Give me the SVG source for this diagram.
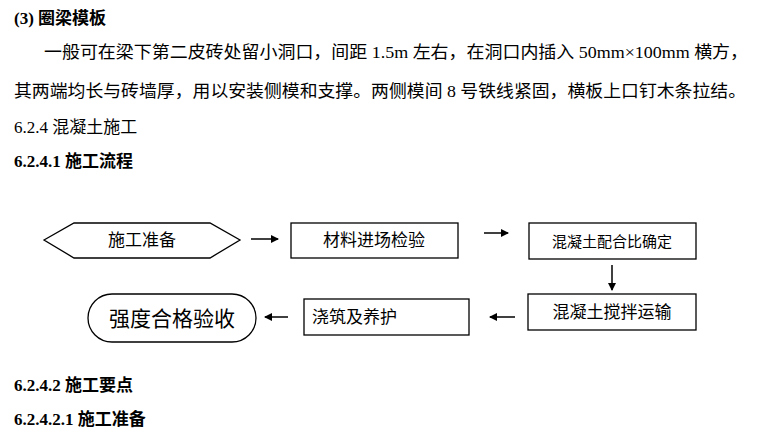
<svg xmlns="http://www.w3.org/2000/svg" width="760" height="446" viewBox="0 0 760 446">
<style>
text{font-family:"Liberation Serif","Noto Sans CJK SC",serif;fill:#000}
.t{font-size:17px}
.b{font-size:17px;font-weight:bold}
.n{fill:#fff;stroke:#000;stroke-width:1.3}
.c{stroke:#000;stroke-width:1.5;fill:none}
</style>
<defs><marker id="a" markerWidth="8" markerHeight="8" refX="7" refY="4" orient="auto" markerUnits="userSpaceOnUse"><path d="M0,0L8,4L0,8z" fill="#000"/></marker></defs>
<rect width="760" height="446" fill="#fff"/>
<text class="b" x="14" y="24" font-size="15">(3) 圈梁模板</text>
<text class="t" x="44" y="58" textLength="704" lengthAdjust="spacingAndGlyphs">一般可在梁下第二皮砖处留小洞口，间距 1.5m 左右，在洞口内插入 50mm×100mm 横方，</text>
<text class="t" x="14" y="97" textLength="732" lengthAdjust="spacingAndGlyphs">其两端均长与砖墙厚，用以安装侧模和支撑。两侧模间 8 号铁线紧固，横板上口钉木条拉结。</text>
<text class="t" x="14" y="133">6.2.4 混凝土施工</text>
<text class="b" x="14" y="167">6.2.4.1 施工流程</text>
<g id="n1"><polygon class="n" points="44,240 74,223 210,223 240,240 210,258 74,258"/><text class="t" x="142" y="246" text-anchor="middle">施工准备</text></g>
<g id="n2"><rect class="n" x="291" y="223" width="167" height="35"/><text class="t" x="374" y="246" text-anchor="middle">材料进场检验</text></g>
<g id="n3"><rect class="n" x="529" y="223" width="167" height="36"/><text x="612" y="247" font-size="15" text-anchor="middle">混凝土配合比确定</text></g>
<g id="n4"><rect class="n" x="528" y="294" width="168" height="36"/><text class="t" x="612" y="318" text-anchor="middle">混凝土搅拌运输</text></g>
<g id="n5"><rect class="n" x="304" y="299" width="165" height="36"/><text class="t" x="312" y="323">浇筑及养护</text></g>
<g id="n6"><rect class="n" x="88" y="294" width="168" height="48" rx="24"/><text x="172" y="326" font-size="21" text-anchor="middle">强度合格验收</text></g>
<g id="edges">
<line class="c" x1="251" y1="239" x2="278" y2="239" marker-end="url(#a)"/>
<line class="c" x1="484" y1="233" x2="508" y2="233" marker-end="url(#a)"/>
<line class="c" x1="612" y1="265" x2="612" y2="290" marker-end="url(#a)"/>
<line class="c" x1="515" y1="317" x2="490" y2="317" marker-end="url(#a)"/>
<line class="c" x1="288" y1="317" x2="265" y2="317" marker-end="url(#a)"/>
</g>
<text class="b" x="14" y="391">6.2.4.2 施工要点</text>
<text class="b" x="14" y="425">6.2.4.2.1 施工准备</text>
</svg>
